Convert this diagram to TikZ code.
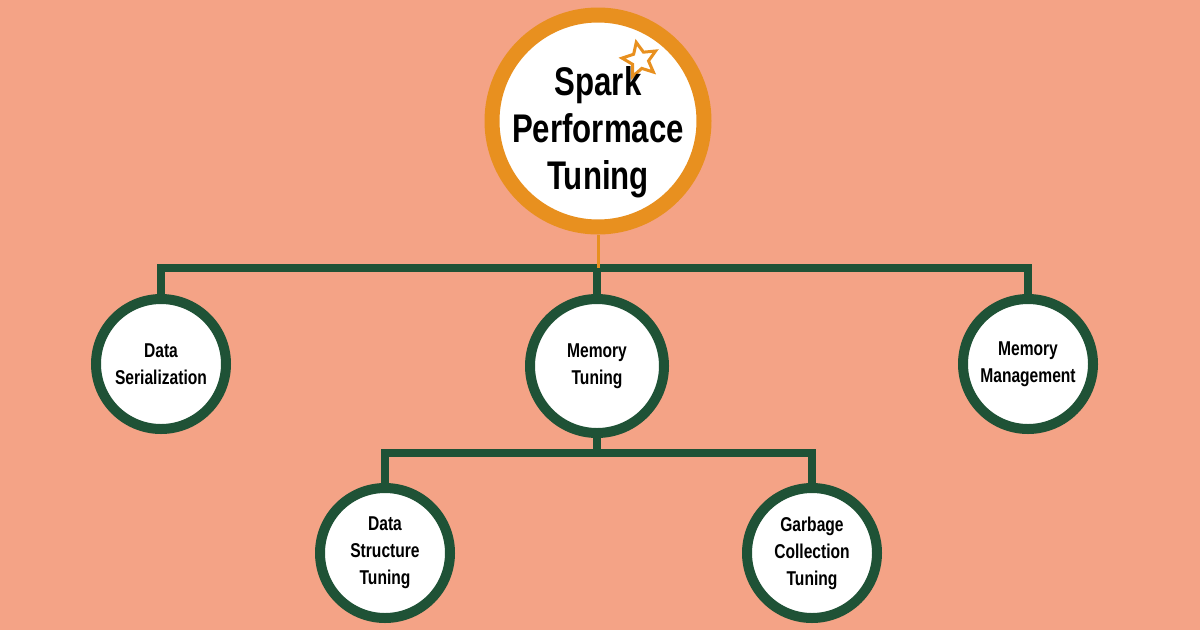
\documentclass[tikz,border=0pt]{standalone}
\usepackage{fontspec}
\setmainfont{Liberation Sans}[FakeStretch=0.78]
\usetikzlibrary{shapes.geometric}
\definecolor{bg}{HTML}{F4A386}
\definecolor{grn}{HTML}{1F5236}
\definecolor{org}{HTML}{E8901F}
\tikzset{
  x=1pt,y=-1pt,
  leaf/.style={circle,draw=grn,line width=10pt,fill=white,minimum size=130pt,inner sep=0pt,align=center,font=\bfseries\fontsize{20}{27}\selectfont},
  bar/.style={grn,line width=8pt},
}
\begin{document}
\begin{tikzpicture}
\fill[bg] (0,0) rectangle (1200,630);
\useasboundingbox (0,0) rectangle (1200,630);
% bars
\coordinate (b1) at (161,268); \coordinate (b2) at (1028,268);
\coordinate (c1) at (385,453); \coordinate (c2) at (812,453);
\draw[bar] ([xshift=-4pt]b1) -- ([xshift=4pt]b2);
\draw[bar] ([xshift=-4pt]c1) -- ([xshift=4pt]c2);
\node[leaf] (ds) at (161,364) {Data\\Serialization};
\node[leaf,minimum size=134pt] (mt) at (597,366) {Memory\\Tuning};
\node[leaf] (mm) at (1028,364) {Memory\\Management};
\node[leaf] (dst) at (385,553) {Data\\Structure\\Tuning};
\node[leaf] (gc) at (812,553) {Garbage\\Collection\\Tuning};
\draw[bar] (b1) -- (ds.north);
\draw[bar] (mt.north|-b1) -- (mt.north);
\draw[bar] (b2) -- (mm.north);
\draw[bar] (mt.south) -- (mt.south|-c1);
\draw[bar] (c1) -- (dst.north);
\draw[bar] (c2) -- (gc.north);
% top
\node[circle,draw=org,line width=15pt,fill=white,minimum size=212pt,inner sep=0pt] (top) at (598,121) {};
\draw[org,line width=3pt] (top.south) -- (top.south|-b1);
\node[star,star points=5,star point ratio=2.1,draw=org,line width=3pt,fill=white,minimum size=36pt,inner sep=0pt,rotate=12] (st) at (640,60) {};
\node[align=center,inner sep=0pt,font=\bfseries\fontsize{40}{47}\selectfont] (title) at (598,132) {Spark\\Performace\\Tuning};
\end{tikzpicture}
\end{document}
